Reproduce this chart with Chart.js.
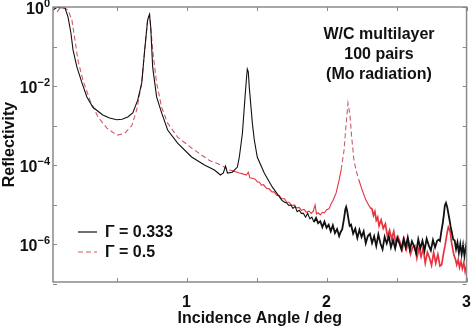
<!DOCTYPE html>
<html>
<head>
<meta charset="utf-8">
<script src="https://cdn.jsdelivr.net/npm/chart.js@4.4.0/dist/chart.umd.min.js"></script>
<style>
  html, body { margin: 0; padding: 0; background: #fff; }
  #wrap { width: 474px; height: 332px; }
</style>
</head>
<body>
<div id="wrap"><canvas id="reflChart"></canvas></div>
<script>
// Gamma = 0.333 multilayer
const angleA = [
  0.046, 0.075, 0.105, 0.132, 0.153, 0.174, 0.189, 0.217, 0.253, 0.288,
  0.331, 0.402, 0.45, 0.502, 0.54, 0.58, 0.616, 0.651, 0.68, 0.701,
  0.722, 0.735, 0.744, 0.758, 0.786, 0.822, 0.865, 0.936, 1.036, 1.128,
  1.199, 1.242, 1.263, 1.278, 1.292, 1.327, 1.363, 1.377, 1.399, 1.416,
  1.427, 1.434, 1.441, 1.448, 1.47, 1.484, 1.505, 1.555, 1.612, 1.68,
  1.70, 1.715, 1.73, 1.745, 1.76, 1.775, 1.79, 1.805, 1.82, 1.835,
  1.85, 1.865, 1.88, 1.895, 1.91, 1.925, 1.94, 1.955, 1.97, 1.985,
  2.00, 2.015, 2.03, 2.045, 2.06, 2.075, 2.09, 2.10, 2.112, 2.125,
  2.134, 2.14, 2.147, 2.155, 2.165, 2.175, 2.19, 2.205, 2.22, 2.235,
  2.25, 2.265, 2.28, 2.295, 2.31, 2.325, 2.34, 2.355, 2.37, 2.385,
  2.40, 2.415, 2.43, 2.445, 2.46, 2.475, 2.49, 2.505, 2.52, 2.535,
  2.55, 2.565, 2.58, 2.595, 2.61, 2.625, 2.64, 2.655, 2.67, 2.685,
  2.70, 2.715, 2.73, 2.745, 2.76, 2.775, 2.79, 2.80, 2.81, 2.82,
  2.83, 2.838, 2.845, 2.853, 2.862, 2.87, 2.878, 2.886, 2.895, 2.905,
  2.915, 2.925, 2.935, 2.945, 2.955, 2.965, 2.975, 2.985, 2.995, 3.0
];
const reflA = [
  0.84, 0.98, 0.96, 0.94, 0.56, 0.22, 0.082, 0.030, 0.012, 5.3e-3,
  2.9e-3, 1.85e-3, 1.55e-3, 1.4e-3, 1.45e-3, 1.65e-3, 2.1e-3, 4.4e-3, 0.012, 0.082,
  0.47, 0.65, 0.31, 0.030, 5.3e-3, 2.1e-3, 7.7e-4, 3.6e-4, 1.6e-4, 1.0e-4,
  7.5e-5, 5.6e-5, 6.3e-5, 9.4e-5, 6.3e-5, 6.6e-5, 8.9e-5, 1.6e-4, 6.4e-4, 4.4e-3,
  0.014, 0.027, 0.023, 9.4e-3, 1.15e-3, 4.3e-4, 1.6e-4, 6.3e-5, 2.8e-5, 1.3e-5,
  1.15e-5, 1.1e-5, 0.95e-5, 0.98e-5, 0.8e-5, 0.9e-5, 0.66e-5, 0.72e-5, 0.6e-5, 0.6e-5,
  0.48e-5, 0.6e-5, 0.44e-5, 0.48e-5, 0.36e-5, 0.46e-5, 0.34e-5, 0.38e-5, 0.27e-5, 0.37e-5,
  0.26e-5, 0.31e-5, 0.21e-5, 0.3e-5, 0.19e-5, 0.24e-5, 0.16e-5, 0.2e-5, 0.24e-5, 4.5e-6,
  7.5e-6, 8.7e-6, 7.0e-6, 4.6e-6, 2.9e-6, 3.1e-6, 1.85e-6, 2.45e-6, 1.43e-6, 2.3e-6,
  1.52e-6, 2.1e-6, 1.05e-6, 1.6e-6, 1.82e-6, 1.06e-6, 1.58e-6, 0.9e-6, 1.75e-6, 1.04e-6,
  0.74e-6, 1.53e-6, 1.04e-6, 1.58e-6, 0.83e-6, 1.27e-6, 0.78e-6, 1.44e-6, 1.05e-6, 0.73e-6,
  1.34e-6, 0.82e-6, 1.46e-6, 0.72e-6, 1.18e-6, 0.88e-6, 0.59e-6, 1.32e-6, 0.78e-6, 1.22e-6,
  0.69e-6, 1.37e-6, 0.93e-6, 0.69e-6, 1.27e-6, 0.83e-6, 1.22e-6, 1.3e-6, 1.2e-6, 2.1e-6,
  3.4e-6, 5.6e-6, 9.5e-6, 1.1e-5, 8.6e-6, 6.0e-6, 4.2e-6, 2.8e-6, 2.0e-6, 1.3e-6,
  1.25e-6, 0.75e-6, 1.1e-6, 0.6e-6, 1.0e-6, 0.55e-6, 0.95e-6, 0.5e-6, 0.85e-6, 0.6e-6
];

// Gamma = 0.5 multilayer
const angleB = [
  0.075, 0.096, 0.125, 0.153, 0.181, 0.203, 0.224, 0.26, 0.31, 0.367,
  0.431, 0.502, 0.559, 0.609, 0.644, 0.68, 0.701, 0.722, 0.737, 0.758,
  0.786, 0.822, 0.865, 0.936, 1.036, 1.128, 1.164, 1.221, 1.27, 1.306,
  1.34, 1.377, 1.40, 1.427, 1.441, 1.452, 1.463, 1.49, 1.505, 1.52,
  1.535, 1.55, 1.57, 1.59, 1.61, 1.625, 1.645, 1.662, 1.68, 1.70,
  1.715, 1.733, 1.75, 1.77, 1.785, 1.804, 1.82, 1.84, 1.855, 1.875,
  1.89, 1.905, 1.918, 1.928, 1.94, 1.955, 1.97, 1.985, 2.0, 2.018,
  2.03, 2.045, 2.058, 2.068, 2.09, 2.104, 2.125, 2.139, 2.153, 2.167,
  2.18, 2.196, 2.212, 2.231, 2.255, 2.281, 2.31, 2.325, 2.335, 2.345,
  2.355, 2.365, 2.375, 2.39, 2.405, 2.42, 2.435, 2.45, 2.465, 2.48,
  2.495, 2.51, 2.525, 2.54, 2.555, 2.57, 2.585, 2.60, 2.615, 2.63,
  2.645, 2.66, 2.675, 2.69, 2.705, 2.72, 2.735, 2.75, 2.765, 2.78,
  2.795, 2.81, 2.822, 2.83, 2.838, 2.846, 2.855, 2.862, 2.87, 2.877,
  2.884, 2.891, 2.90, 2.91, 2.92, 2.93, 2.94, 2.95, 2.96, 2.97,
  2.98, 2.99, 3.0
];
const reflB = [
  0.75, 0.94, 0.95, 0.84, 0.47, 0.146, 0.045, 0.014, 4.4e-3, 1.65e-3,
  8.6e-4, 5.7e-4, 6.4e-4, 1.0e-3, 2.5e-3, 0.012, 0.082, 0.47, 0.63, 0.082,
  0.012, 2.9e-3, 1.15e-3, 5.1e-4, 2.7e-4, 1.6e-4, 1.3e-4, 1.1e-4, 8.9e-5, 7.5e-5,
  7.0e-5, 6.3e-5, 6.0e-5, 5.6e-5, 6.6e-5, 4.8e-5, 4.7e-5, 4.4e-5, 3.8e-5, 3.7e-5,
  3.1e-5, 3.2e-5, 2.6e-5, 2.5e-5, 2.1e-5, 2.1e-5, 1.7e-5, 1.7e-5, 1.4e-5, 1.4e-5,
  1.15e-5, 1.15e-5, 0.95e-5, 0.98e-5, 0.82e-5, 0.85e-5, 0.72e-5, 0.76e-5, 0.64e-5, 0.68e-5,
  0.6e-5, 0.68e-5, 0.98e-5, 0.58e-5, 0.62e-5, 0.55e-5, 0.64e-5, 0.62e-5, 0.74e-5, 0.78e-5,
  1.0e-5, 1.25e-5, 1.6e-5, 1.95e-5, 4.2e-5, 7.5e-5, 2.4e-4, 1.0e-3, 3.7e-3, 1.85e-3,
  4.9e-4, 1.3e-4, 7.0e-5, 4.2e-5, 2.3e-5, 1.3e-5, 8.5e-6, 7.7e-6, 5.3e-6, 6.7e-6,
  4.0e-6, 4.8e-6, 2.9e-6, 4.1e-6, 2.5e-6, 3.25e-6, 1.58e-6, 2.24e-6, 1.36e-6, 2.1e-6,
  0.98e-6, 1.54e-6, 1.11e-6, 0.73e-6, 1.3e-6, 0.74e-6, 1.2e-6, 0.56e-6, 0.83e-6, 0.92e-6,
  0.44e-6, 0.79e-6, 0.48e-6, 0.8e-6, 0.33e-6, 0.62e-6, 0.45e-6, 0.29e-6, 0.62e-6, 0.33e-6,
  0.55e-6, 0.28e-6, 0.3e-6, 0.45e-6, 0.65e-6, 0.9e-6, 1.4e-6, 2.0e-6, 2.7e-6, 2.4e-6,
  2.0e-6, 1.2e-6, 0.8e-6, 0.52e-6, 0.42e-6, 0.3e-6, 0.4e-6, 0.26e-6, 0.36e-6, 0.24e-6,
  0.34e-6, 0.2e-6, 0.28e-6
];

const seriesLabels = ['\u0393 = 0.333', '\u0393 = 0.5'];
const xTicks = [0.5, 1, 1.5, 2, 2.5, 3];
const yTicks = [1e-7, 1e-6, 1e-5, 1e-4, 1e-3, 1e-2, 1e-1, 1];
const noteLines = ['W/C multilayer', '100 pairs', '(Mo radiation)'];

const FONT = 'Liberation Sans, Arial, sans-serif';
const DASH_COLOR = '#d05a68';
const SOLID_RED = '#e8333f';

function points(xs, ys) {
  return xs.map((v, i) => ({ x: v, y: ys[i] }));
}

// the smooth stretches of the 0.5 curve show their dashes, the noisy ones read as solid
function dashedAt(x) {
  return x < 1.3 || (x >= 2.1 && x < 2.22);
}

// box, inward ticks, decade labels, legend and the sample note
const decorations = {
  id: 'decorations',
  afterDatasetsDraw(chart) {
    const { ctx, chartArea: a, scales: { x, y } } = chart;
    ctx.save();
    ctx.strokeStyle = '#8a8a8a';
    ctx.lineWidth = 1.5;
    ctx.strokeRect(a.left, a.top, a.right - a.left, a.bottom - a.top);
    ctx.lineWidth = 1;
    ctx.beginPath();
    xTicks.forEach(t => {
      const px = Math.round(x.getPixelForValue(t)) + 0.5;
      ctx.moveTo(px, a.bottom); ctx.lineTo(px, a.bottom - 4);
      ctx.moveTo(px, a.top); ctx.lineTo(px, a.top + 4);
    });
    yTicks.forEach(t => {
      const py = Math.round(y.getPixelForValue(t)) + 0.5;
      ctx.moveTo(a.left, py); ctx.lineTo(a.left + 4, py);
      ctx.moveTo(a.right, py); ctx.lineTo(a.right - 4, py);
    });
    ctx.stroke();

    // 10^n labels on every second decade
    ctx.fillStyle = '#111';
    ctx.textBaseline = 'alphabetic';
    yTicks.forEach(t => {
      const e = Math.round(Math.log10(t));
      if (e % 2 !== 0) return;
      const py = y.getPixelForValue(t);
      const sup = e === 0 ? '0' : '\u2212' + Math.abs(e);
      ctx.font = 'bold 11px ' + FONT;
      const wSup = ctx.measureText(sup).width;
      const right = a.left - 3;
      ctx.textAlign = 'left';
      ctx.fillText(sup, right - wSup, py - 0.5);
      ctx.font = 'bold 16px ' + FONT;
      ctx.textAlign = 'right';
      ctx.fillText('10', right - wSup, py + 6.5);
    });

    // legend
    ctx.font = 'bold 16px ' + FONT;
    ctx.textAlign = 'left';
    ctx.textBaseline = 'middle';
    chart.data.datasets.forEach((ds, i) => {
      const ly = a.top + 225 + i * 20;
      ctx.strokeStyle = ds.borderColor;
      ctx.lineWidth = 1.2;
      ctx.setLineDash(ds.borderDash || []);
      ctx.beginPath();
      ctx.moveTo(a.left + 25, ly);
      ctx.lineTo(a.left + 44, ly);
      ctx.stroke();
      ctx.setLineDash([]);
      ctx.fillText(ds.label, a.left + 52, ly + 1);
    });

    // sample note
    ctx.textAlign = 'center';
    noteLines.forEach((s, i) => ctx.fillText(s, 379, 35 + i * 20));
    ctx.restore();
  }
};

new Chart(document.getElementById('reflChart'), {
  type: 'line',
  data: {
    datasets: [
      {
        label: seriesLabels[0],
        data: points(angleA, reflA),
        borderColor: '#111111',
        borderWidth: 1.1,
        pointRadius: 0,
        tension: 0,
        segment: {
          // the noisy tail is drawn heavier
          borderWidth: c => (c.p0.parsed.x > 1.9 ? 1.8 : 1.1)
        }
      },
      {
        label: seriesLabels[1],
        data: points(angleB, reflB),
        borderColor: DASH_COLOR,
        borderWidth: 1.1,
        borderDash: [5, 3],
        pointRadius: 0,
        tension: 0,
        segment: {
          borderDash: c => (dashedAt(c.p0.parsed.x) ? [5, 3] : []),
          borderColor: c => (dashedAt(c.p0.parsed.x) ? DASH_COLOR : SOLID_RED),
          borderWidth: c => (c.p0.parsed.x > 2.3 ? 1.7 : 1.1)
        }
      }
    ]
  },
  options: {
    responsive: true,
    maintainAspectRatio: false,
    animation: false,
    layout: { padding: { top: 7, right: 7, left: 0, bottom: 0 } },
    plugins: {
      legend: { display: false },
      tooltip: { enabled: false }
    },
    scales: {
      x: {
        type: 'linear',
        min: 0.046,
        max: 3,
        afterBuildTicks: s => { s.ticks = xTicks.map(v => ({ value: v })); },
        afterFit: s => { s.height = 50; },
        grid: { display: false },
        border: { display: false },
        ticks: {
          color: '#111',
          font: { family: FONT, size: 16, weight: 'bold' },
          padding: 3,
          maxRotation: 0,
          callback: v => (Number.isInteger(v) ? String(v) : '')
        },
        title: {
          display: true,
          text: 'Incidence Angle / deg',
          color: '#111',
          font: { family: FONT, size: 16, weight: 'bold' },
          padding: { top: 0, bottom: 4 }
        }
      },
      y: {
        type: 'logarithmic',
        min: 1.1e-7,
        max: 1,
        afterBuildTicks: s => { s.ticks = yTicks.map(v => ({ value: v })); },
        afterFit: s => { s.width = 53; },
        grid: { display: false },
        border: { display: false },
        ticks: { display: false },
        title: {
          display: true,
          text: 'Reflectivity',
          color: '#111',
          font: { family: FONT, size: 16, weight: 'bold' },
          padding: { top: 0, bottom: 0 }
        }
      }
    }
  },
  plugins: [decorations]
});
</script>
</body>
</html>
